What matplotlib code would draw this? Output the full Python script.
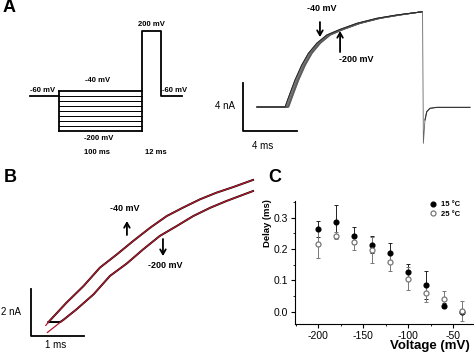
import numpy as np
import matplotlib
matplotlib.use('Agg')
import matplotlib.pyplot as plt
from matplotlib.ticker import MultipleLocator

plt.rcParams['font.family'] = ['Liberation Sans', 'DejaVu Sans']
plt.rcParams['axes.unicode_minus'] = False

W, H = 474, 353

# ---- panel A (left): voltage protocol ----
hold_mv = -60
step_mv = np.arange(-40, -201, -20)
pulse_mv = 200
# schematic time stamps (drawing units, protocol is not drawn to scale)
proto_t = [30, 59, 142, 161, 182]

# ---- panel A (right): gating current traces (ms, nA) ----
rise_t = [1.04, 3.11, 3.48, 3.85, 4.35, 4.84, 5.46, 6.20, 7.19, 8.42, 9.90, 11.39, 13.28]
rise_i = [0.0, 0.0, 1.14, 2.25, 3.50, 4.47, 5.31, 6.00, 6.47, 6.97, 7.39, 7.67, 7.94]
tail_t = [13.30, 13.36, 13.48, 13.61, 13.85, 14.35, 16.81]
tail_i = [7.94, -3.03, -1.08, -0.39, -0.11, -0.03, -0.03]

# ---- panel B: onset at -40 and -200 mV (ms, nA) ----
b40_t = [0.33, 0.67, 0.99, 1.30, 1.62, 1.93, 2.25, 2.56, 2.87, 3.19, 3.50, 3.82, 4.19]
b40_i = [0.59, 1.41, 2.11, 2.89, 3.45, 4.02, 4.58, 5.07, 5.43, 5.78, 6.06, 6.30, 6.60]
b200_t = [0.33, 0.55, 0.61, 0.86, 1.18, 1.49, 1.81, 2.12, 2.43, 2.75, 3.06, 3.38, 3.69, 3.94, 4.19]
b200_i = [0.59, 0.59, 0.68, 1.13, 1.76, 2.54, 3.07, 3.67, 4.23, 4.65, 5.07, 5.42, 5.71, 5.92, 6.13]
fit40_t = [0.28, 0.33, 0.67, 0.99, 1.30, 1.62, 1.93, 2.25, 2.56, 2.87, 3.19, 3.50, 3.82, 4.19]
fit40_i = [0.45, 0.59, 1.41, 2.11, 2.89, 3.45, 4.02, 4.58, 5.07, 5.43, 5.78, 6.06, 6.30, 6.60]
fit200_t = [0.31, 0.61, 0.86, 1.18, 1.49, 1.81, 2.12, 2.43, 2.75, 3.06, 3.38, 3.69, 3.94, 4.19]
fit200_i = [0.15, 0.68, 1.13, 1.76, 2.54, 3.07, 3.67, 4.23, 4.65, 5.07, 5.42, 5.71, 5.92, 6.13]

# ---- panel C: delay vs voltage ----
voltages = [-200, -180, -160, -140, -120, -100, -80, -60, -40]
delay_15 = [0.264, 0.287, 0.243, 0.213, 0.187, 0.128, 0.086, 0.019, 0.0]
err_15 = [0.026, 0.053, 0.027, 0.027, 0.031, 0.025, 0.044, 0.008, 0.0]
delay_25 = [0.216, 0.243, 0.222, 0.197, 0.160, 0.105, 0.061, 0.041, 0.003]
err_25 = [0.045, 0.011, 0.025, 0.042, 0.030, 0.037, 0.030, 0.024, 0.032]

fig = plt.figure(figsize=(W / 100, H / 100), dpi=100)


def px_axes(x0, y0, x1, y1):
    return fig.add_axes([x0 / W, 1 - y1 / H, (x1 - x0) / W, (y1 - y0) / H])


def arrow(ax, tail, tip):
    ax.annotate('', xy=tip, xytext=tail,
                arrowprops=dict(arrowstyle='->,head_length=0.35,head_width=0.2',
                                lw=1.3, color='black', shrinkA=0, shrinkB=0))


lbl = dict(fontsize=6.5, fontweight='bold', ha='center', va='center')
small = dict(fontsize=5.5, fontweight='bold', ha='center', va='center')
scale = dict(fontsize=7, ha='center', va='center')

# ---------- A left ----------
ax = px_axes(0, 0, 237, 176)
ax.set_xlim(0, 237)
ax.set_ylim(-380, 324)
ax.axis('off')
t0, t1, t2, t3, t4 = proto_t
ax.plot([t0, t1], [hold_mv, hold_mv], color='black', lw=1.3)
for v in step_mv:
    w = 1.3 if v in (step_mv[0], step_mv[-1]) else 0.7
    ax.plot([t1, t2], [v, v], color='black', lw=w)
ax.plot([t1, t1], [step_mv[0], step_mv[-1]], color='black', lw=1.3)
ax.plot([t2, t2, t3, t3, t4], [step_mv[-1], pulse_mv, pulse_mv, hold_mv, hold_mv],
        color='black', lw=1.3)
ax.text((t0 + t1) / 2 - 2, hold_mv + 20, '-60 mV', **small)
ax.text((t1 + t2) / 2 - 3, step_mv[0] + 44, '-40 mV', **small)
ax.text((t1 + t2) / 2 - 2, step_mv[-1] - 32, '-200 mV', **small)
ax.text((t1 + t2) / 2 - 3, step_mv[-1] - 88, '100 ms', **small)
ax.text((t2 + t3) / 2, pulse_mv + 28, '200 mV', **small)
ax.text(t4 - 7, hold_mv + 24, '-60 mV', **small)
ax.text((t2 + t3) / 2 + 4, step_mv[-1] - 88, '12 ms', **small)

# ---------- A right ----------
ax = px_axes(237, 0, 474, 176)
ax.set_xlim(-0.444, 17.11)
ax.set_ylim(-5.75, 8.917)
ax.axis('off')
rt = np.array(rise_t)
for d in delay_15:
    shifted = rt.copy()
    shifted[1:-1] += d
    ax.plot(shifted, rise_i, color='#5a5a5a', lw=0.7, alpha=0.8)
ax.plot(rise_t, rise_i, color='#222222', lw=0.6)
ax.plot(tail_t, tail_i, color='#666666', lw=0.6)
ax.plot(tail_t[2:], tail_i[2:], color='#333333', lw=0.8)
ax.plot([0, 0, 4], [2, -2, -2], color='black', lw=1.3)
ax.text(-1.33, 0.08, '4 nA', **scale)
ax.text(1.48, -3.25, '4 ms', **scale)
arrow(ax, (5.70, 7.08), (5.70, 5.83))
arrow(ax, (7.19, 4.58), (7.19, 6.33))
ax.text(5.85, 8.17, '-40 mV', **lbl)
ax.text(8.40, 3.92, '-200 mV', **lbl)

# ---------- B ----------
ax = px_axes(0, 176, 260, 353)
ax.set_xlim(-0.585, 4.321)
ax.set_ylim(-0.719, 6.765)
ax.axis('off')
ax.plot(b40_t, b40_i, color='black', lw=1.4)
ax.plot(b200_t, b200_i, color='black', lw=1.4)
ax.plot(fit40_t, fit40_i, color='#b2182b', lw=0.9)
ax.plot(fit200_t, fit200_i, color='#b2182b', lw=0.9)
ax.plot([0, 0, 1], [2, 0, 0], color='black', lw=1.3)
ax.text(-0.38, 1.01, '2 nA', **scale)
ax.text(0.47, -0.40, '1 ms', **scale)
arrow(ax, (1.81, 4.27), (1.81, 4.86))
arrow(ax, (2.49, 4.10), (2.49, 3.38))
ax.text(1.77, 5.41, '-40 mV', **lbl)
ax.text(2.53, 2.96, '-200 mV', **lbl)

# ---------- C ----------
ax = px_axes(295, 201, 474, 324)
ax.set_xlim(-225.6, -27)
ax.set_ylim(-0.039, 0.353)
ax.errorbar(voltages, delay_15, yerr=err_15, fmt='none', ecolor='#222222',
            elinewidth=0.7, capsize=1.6, capthick=0.7, zorder=2)
ax.errorbar(voltages, delay_25, yerr=err_25, fmt='none', ecolor='#777777',
            elinewidth=0.7, capsize=1.6, capthick=0.7, zorder=2)
ax.plot(voltages, delay_15, 'o', color='black', ms=3.4, zorder=3, label='15 \u00b0C')
ax.plot(voltages, delay_25, 'o', mfc='white', mec='#777777', mew=0.9, ms=3.6,
        zorder=4, label='25 \u00b0C')
for s in ('top', 'right'):
    ax.spines[s].set_visible(False)
for s in ('left', 'bottom'):
    ax.spines[s].set_linewidth(0.8)
ax.set_xticks([-200, -150, -100, -50])
ax.set_yticks([0.0, 0.1, 0.2, 0.3])
ax.xaxis.set_minor_locator(MultipleLocator(25))
ax.yaxis.set_minor_locator(MultipleLocator(0.05))
ax.tick_params(labelsize=7.5, length=3, width=0.8, pad=2)
ax.tick_params(which='minor', length=1.5, width=0.6)
ax.legend(loc='upper left', bbox_to_anchor=(0.749, 1.0), frameon=False,
          handlelength=1.0, handletextpad=0.5, labelspacing=0.25,
          borderpad=0, borderaxespad=0, prop=dict(size=5.5, weight='bold'))
fig.text(267 / W, 1 - 223 / H, 'Delay (ms)', rotation=90, fontsize=6.8,
         fontweight='bold', ha='center', va='center')
fig.text(430 / W, 1 - 346 / H, 'Voltage (mV)', fontsize=9.5, fontweight='bold',
         ha='center', va='center')

# panel letters
fig.text(9 / W, 1 - 7 / H, 'A', fontsize=13, fontweight='bold', ha='center', va='center')
fig.text(10 / W, 1 - 177 / H, 'B', fontsize=13, fontweight='bold', ha='center', va='center')
fig.text(275 / W, 1 - 177 / H, 'C', fontsize=13, fontweight='bold', ha='center', va='center')

fig.savefig('out.png', dpi=100)
